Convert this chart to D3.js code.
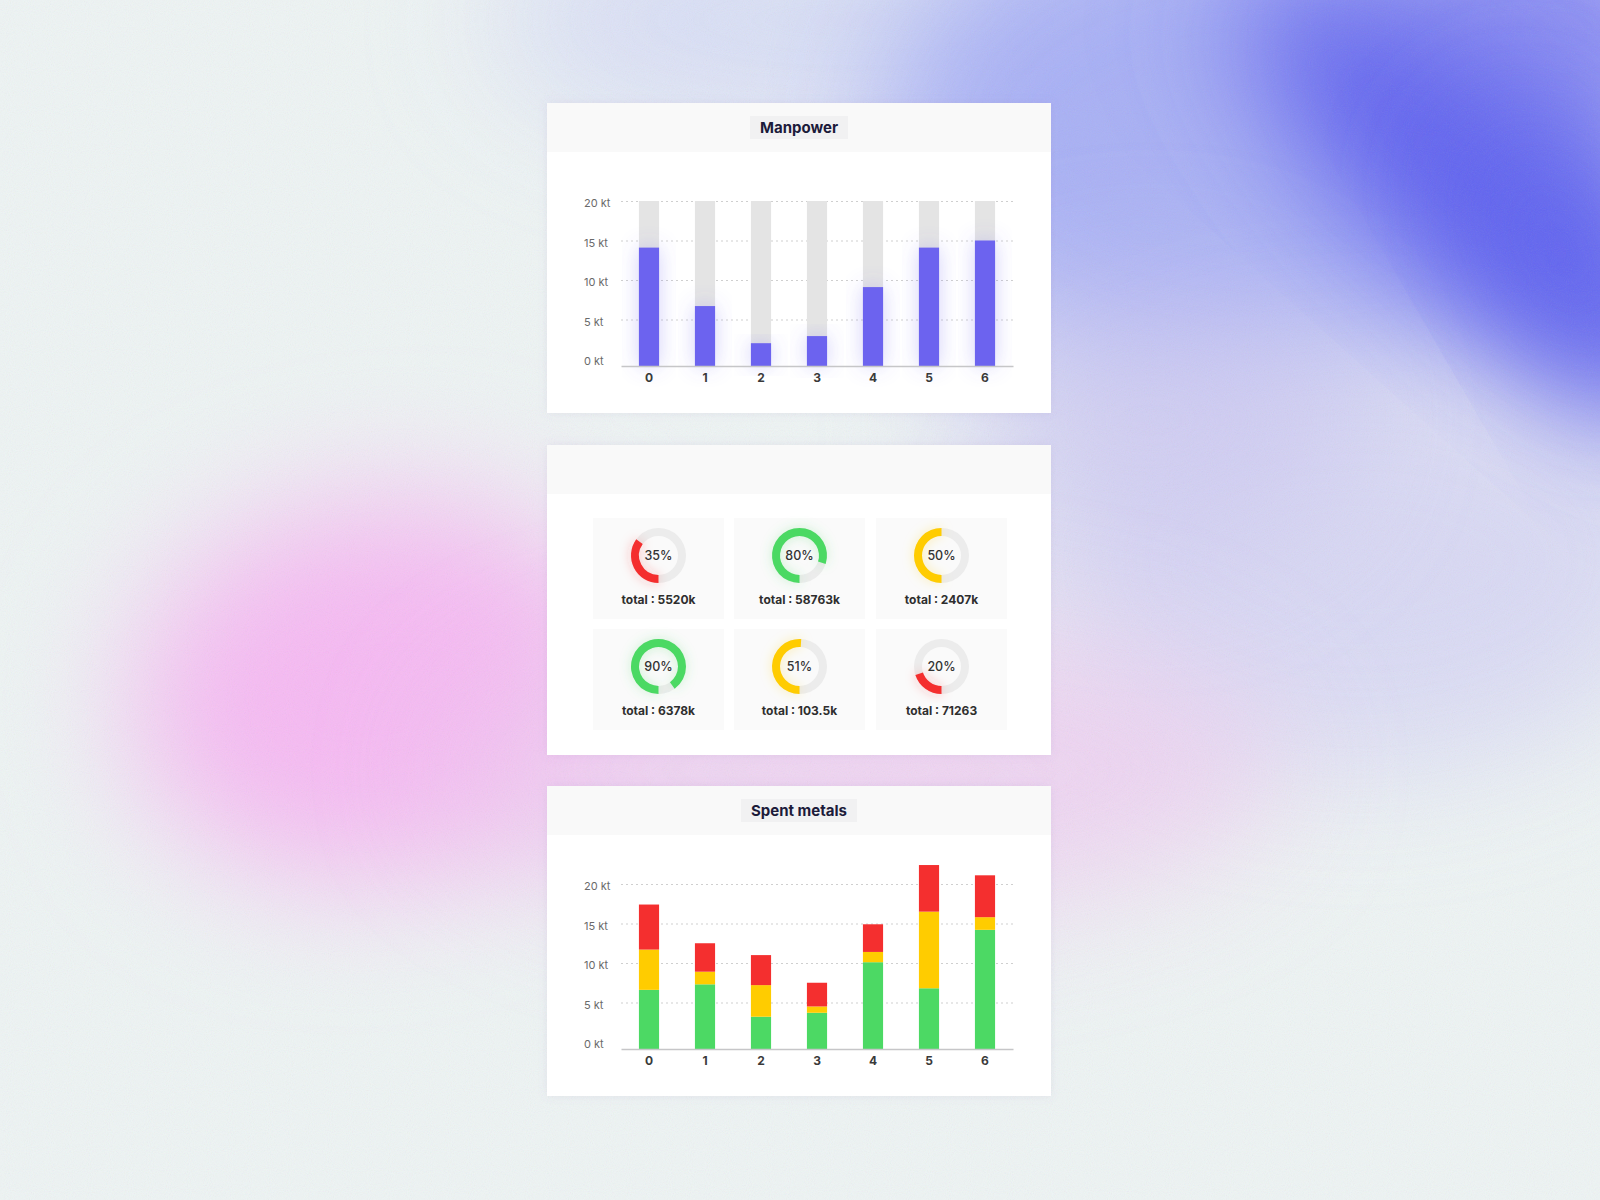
<!DOCTYPE html>
<html>
<head>
<meta charset="utf-8">
<script src="https://cdn.jsdelivr.net/npm/d3@7"></script>
<style>
  html, body { margin: 0; width: 1600px; height: 1200px; overflow: hidden; background: #eef4f4; }
  svg { position: absolute; left: 0; top: 0; font-family: Inter, "DejaVu Sans", sans-serif; }
</style>
</head>
<body>
<svg id="board" width="1600" height="1200"></svg>
<script>
// ---------------- DATA ----------------
const categories = ["0", "1", "2", "3", "4", "5", "6"];
const yTicks = [0, 5, 10, 15, 20];
const yMax = 20;

// Manpower (kt)
const manpower = [14.1, 6.7, 2.0, 2.9, 9.1, 14.1, 15.0];

// Spent metals (kt), stacked bottom -> top
const metalGreen  = [6.6, 7.3, 3.2, 3.7, 10.1, 6.8, 14.2];
const metalYellow = [5.1, 1.6, 4.0, 0.8, 1.3, 9.7, 1.6];
const metalRed    = [5.7, 3.6, 3.8, 3.0, 3.5, 5.9, 5.3];

// gauges
const gaugePct    = [35, 80, 50, 90, 51, 20];
const gaugeTotals = ["5520k", "58763k", "2407k", "6378k", "103.5k", "71263"];

const COLORS = { purple: "#6c63ef", green: "#4cd964", yellow: "#ffcc00", red: "#f42f2f", track: "#ececec" };

// ---------------- LAYOUT ----------------
const cardX = 547, cardW = 504, cardH = 310, headerH = 49;
const cardTops = [103, 445, 786];

const svg = d3.select("#board");
const defs = svg.append("defs");

// ---------------- BACKGROUND ----------------
defs.append("filter").attr("id", "blurBig")
  .attr("x", "-60%").attr("y", "-60%").attr("width", "220%").attr("height", "220%")
  .append("feGaussianBlur").attr("stdDeviation", 65);

const grain = defs.append("filter").attr("id", "grain");
grain.append("feTurbulence").attr("type", "fractalNoise").attr("baseFrequency", 0.95)
  .attr("numOctaves", 2).attr("stitchTiles", "stitch");

const bg = svg.append("g");
bg.append("rect").attr("width", 1600).attr("height", 1200).attr("fill", "#eef4f4");

const blobs = [
  { cx: 850,  cy: 20,  rx: 360, ry: 120, fill: "#d6dbf6", op: 0.9,  rot: 0 },
  { cx: 1260, cy: 140, rx: 380, ry: 260, fill: "#a3abf6", op: 0.9,  rot: 0 },
  { cx: 1360, cy: 560, rx: 330, ry: 210, fill: "#d6d5f4", op: 0.85, rot: 0 },
  { cx: 1150, cy: 420, rx: 200, ry: 140, fill: "#cbc5f2", op: 0.6,  rot: 0 },
  { cx: 1560, cy: 30,  rx: 180, ry: 140, fill: "#8a8df3", op: 0.95, rot: 0 },
  { cx: 1490, cy: 200, rx: 95,  ry: 320, fill: "#5b5def", op: 1,    rot: -48 },
  { cx: 1560, cy: 250, rx: 70,  ry: 150, fill: "#5f63f0", op: 0.9,  rot: -30 },
  { cx: 380,  cy: 690, rx: 250, ry: 190, fill: "#f6baf3", op: 1,    rot: -8 },
  { cx: 860,  cy: 770, rx: 420, ry: 150, fill: "#efc8f1", op: 0.7,  rot: 0 }
];
bg.selectAll("ellipse").data(blobs).join("ellipse")
  .attr("cx", d => d.cx).attr("cy", d => d.cy)
  .attr("rx", d => d.rx).attr("ry", d => d.ry)
  .attr("transform", d => `rotate(${d.rot},${d.cx},${d.cy})`)
  .attr("fill", d => d.fill).attr("opacity", d => d.op)
  .attr("filter", "url(#blurBig)");

bg.append("rect").attr("width", 1600).attr("height", 1200)
  .attr("filter", "url(#grain)").attr("opacity", 0.1);

// ---------------- SHADOWS / GLOWS ----------------
function glow(id, color, sd, op) {
  const f = defs.append("filter").attr("id", id)
    .attr("x", "-80%").attr("y", "-40%").attr("width", "260%").attr("height", "180%");
  f.append("feGaussianBlur").attr("in", "SourceAlpha").attr("stdDeviation", sd).attr("result", "b");
  f.append("feFlood").attr("flood-color", color).attr("flood-opacity", op);
  f.append("feComposite").attr("in2", "b").attr("operator", "in").attr("result", "g");
  const m = f.append("feMerge");
  m.append("feMergeNode").attr("in", "g");
  m.append("feMergeNode").attr("in", "SourceGraphic");
}
glow("cardShadow", "#8a6fb0", 5, 0.12);
glow("purpleGlow", COLORS.purple, 10, 0.3);
glow("glow-red", COLORS.red, 6, 0.28);
glow("glow-green", COLORS.green, 6, 0.28);
glow("glow-yellow", COLORS.yellow, 6, 0.28);

// ---------------- CARDS ----------------
function drawCard(top, title) {
  const g = svg.append("g").attr("transform", `translate(${cardX},${top})`);
  g.append("rect").attr("width", cardW).attr("height", cardH).attr("fill", "#fff")
    .attr("filter", "url(#cardShadow)");
  g.append("rect").attr("width", cardW).attr("height", headerH).attr("fill", "#f9f9f9");
  if (title) {
    const box = g.append("rect").attr("y", 13).attr("height", 23).attr("fill", "#f1f1f2");
    const t = g.append("text").attr("x", cardW / 2).attr("y", 24.5).attr("dy", "0.35em")
      .attr("text-anchor", "middle").attr("font-size", 15).attr("font-weight", 700)
      .attr("fill", "#1c1b3a").text(title);
    const w = t.node().getComputedTextLength() + 20;
    box.attr("x", cardW / 2 - w / 2).attr("width", w);
  }
  return g;
}

// common axes for the two bar charts
const plotLeft = 74, plotRight = 466, gridTop = 98, zeroY = 256, axisY = 263, labelX = 37;

function chartFrame(card) {
  const x = d3.scaleBand().domain(categories).range([plotLeft, plotRight])
    .paddingInner(0.64).paddingOuter(0.32);
  const y = d3.scaleLinear().domain([0, yMax]).range([zeroY, gridTop]);

  // grid
  card.append("g").attr("transform", `translate(${plotLeft},0)`)
    .call(d3.axisLeft(y).tickValues(yTicks.filter(v => v > 0)).tickSize(-(plotRight - plotLeft)).tickFormat(""))
    .call(g => g.select(".domain").remove())
    .call(g => g.selectAll("line").attr("stroke", "#cfcfcf").attr("stroke-dasharray", "2,3"));

  // y labels
  card.append("g").attr("transform", `translate(${plotLeft},0)`)
    .call(d3.axisLeft(y).tickValues(yTicks).tickSize(0).tickFormat(d => `${d} kt`))
    .call(g => g.select(".domain").remove())
    .call(g => g.selectAll("text")
      .attr("x", labelX - plotLeft).attr("dy", "0.5em").attr("text-anchor", "start")
      .attr("font-family", "Inter, sans-serif").attr("font-size", 11).attr("fill", "#6a6a6a"));
  return { x, y };
}

function xAxis(card, x) {
  card.append("g").attr("transform", `translate(0,${axisY})`)
    .call(d3.axisBottom(x).tickSize(0))
    .call(g => g.select(".domain").attr("stroke", "#c6c6c8").attr("stroke-width", 1.5))
    .call(g => g.selectAll("text").attr("y", 12).attr("dy", "0.35em")
      .attr("font-family", "Inter, sans-serif").attr("font-size", 12).attr("font-weight", 700).attr("fill", "#3a3a3a"));
}

// ---------------- MANPOWER ----------------
const c1 = drawCard(cardTops[0], "Manpower");
{
  const { x, y } = chartFrame(c1);
  const rows = categories.map((c, i) => ({ c, v: manpower[i] }));
  c1.append("g").selectAll("rect").data(rows).join("rect")
    .attr("x", d => x(d.c)).attr("width", x.bandwidth())
    .attr("y", y(yMax)).attr("height", axisY - y(yMax))
    .attr("fill", "#e4e4e4");
  c1.append("g").selectAll("rect").data(rows).join("rect")
    .attr("x", d => x(d.c)).attr("width", x.bandwidth())
    .attr("y", d => y(d.v)).attr("height", d => axisY - y(d.v))
    .attr("fill", COLORS.purple).attr("filter", "url(#purpleGlow)");
  xAxis(c1, x);
}

// ---------------- GAUGES ----------------
const c2 = drawCard(cardTops[1], null);
{
  const cellW = 131, cellH = 101, cellXs = [46, 187, 329], cellYs = [73, 184];
  const rIn = 19.5, rOut = 27.5;
  const arcTrack = d3.arc().innerRadius(rIn).outerRadius(rOut).startAngle(0).endAngle(2 * Math.PI);
  const arcVal = d3.arc().innerRadius(rIn).outerRadius(rOut);
  const tone = p => p < 40 ? "red" : p < 70 ? "yellow" : "green";

  const cells = gaugePct.map((p, i) => ({ p, total: gaugeTotals[i], col: i % 3, row: Math.floor(i / 3) }));
  const cg = c2.selectAll("g.cell").data(cells).join("g").attr("class", "cell")
    .attr("transform", d => `translate(${cellXs[d.col]},${cellYs[d.row]})`);
  cg.append("rect").attr("width", cellW).attr("height", cellH).attr("fill", "#fafafa");
  const dg = cg.append("g").attr("transform", `translate(${cellW / 2},37.5)`);
  dg.append("path").attr("d", arcTrack()).attr("fill", COLORS.track);
  dg.append("path")
    .attr("d", d => arcVal({ startAngle: Math.PI, endAngle: Math.PI + d.p / 100 * 2 * Math.PI }))
    .attr("fill", d => COLORS[tone(d.p)]).attr("filter", d => `url(#glow-${tone(d.p)})`);
  dg.append("text").attr("dy", "0.35em").attr("text-anchor", "middle")
    .attr("font-size", 12.5).attr("font-weight", 500).attr("fill", "#333")
    .text(d => `${d.p}%`);
  cg.append("text").attr("x", cellW / 2).attr("y", 82).attr("dy", "0.35em")
    .attr("text-anchor", "middle").attr("font-size", 12).attr("font-weight", 700).attr("fill", "#2e2e2e")
    .text(d => `total : ${d.total}`);
}

// ---------------- SPENT METALS ----------------
const c3 = drawCard(cardTops[2], "Spent metals");
{
  const { x, y } = chartFrame(c3);
  const rows = categories.map((c, i) => ({ c, green: metalGreen[i], yellow: metalYellow[i], red: metalRed[i] }));
  const keys = ["green", "yellow", "red"];
  const series = d3.stack().keys(keys)(rows);
  c3.append("g").selectAll("g").data(series).join("g")
    .attr("fill", s => COLORS[s.key])
    .selectAll("rect").data(s => s).join("rect")
    .attr("x", d => x(d.data.c)).attr("width", x.bandwidth())
    .attr("y", d => y(d[1]))
    .attr("height", d => (d[0] === 0 ? axisY : y(d[0])) - y(d[1]));
  xAxis(c3, x);
}
</script>
</body>
</html>
